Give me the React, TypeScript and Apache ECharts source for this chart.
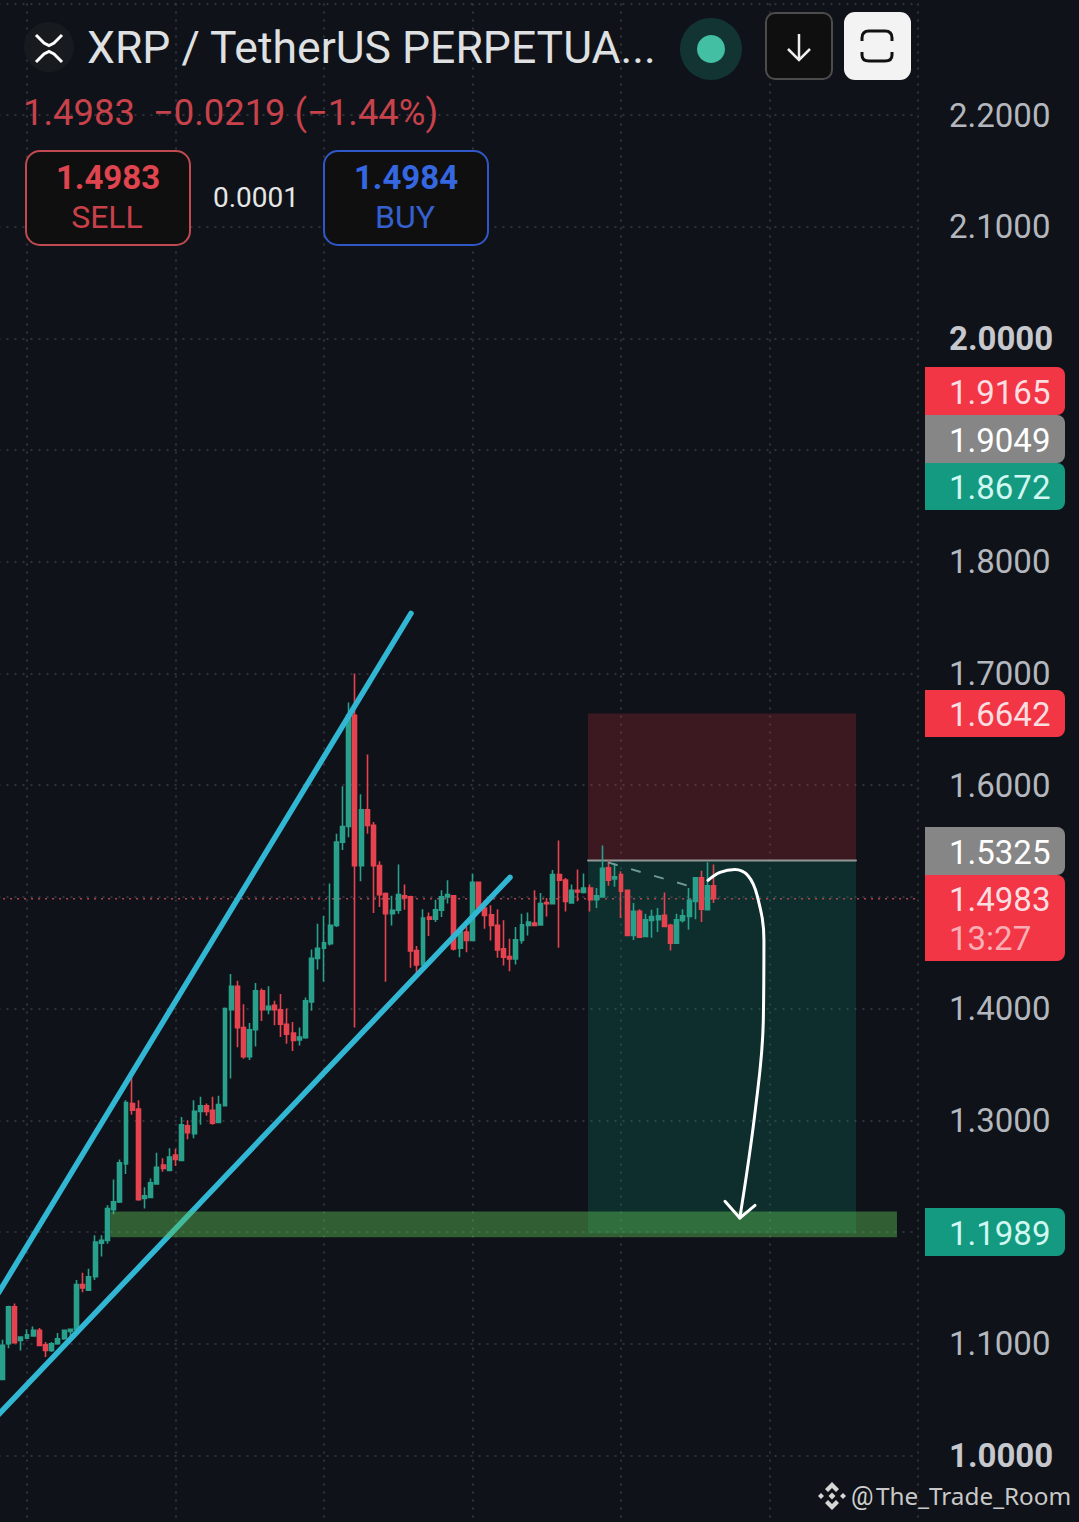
import React, { useEffect, useRef } from "react";
import * as echarts from "echarts";

const opens = [
  1.068, 1.100, 1.133, 1.103, 1.105, 1.107, 1.112, 1.099, 1.094, 1.100,
  1.1044, 1.111, 1.1125, 1.153, 1.148, 1.160, 1.190, 1.1925, 1.220, 1.227,
  1.261, 1.315, 1.310, 1.230, 1.231, 1.243, 1.260, 1.255, 1.269, 1.264,
  1.295, 1.288, 1.308, 1.313, 1.309, 1.298, 1.313, 1.399, 1.420, 1.383,
  1.357, 1.381, 1.416, 1.399, 1.403, 1.399, 1.386, 1.378, 1.372, 1.374,
  1.406, 1.445, 1.454, 1.458, 1.4745, 1.549, 1.563, 1.6625, 1.528, 1.578,
  1.564, 1.528, 1.503, 1.485, 1.488, 1.501, 1.500, 1.452, 1.439, 1.482,
  1.480, 1.488, 1.500, 1.501, 1.454, 1.4685, 1.461, 1.513, 1.490, 1.484,
  1.4745, 1.4535, 1.4465, 1.4445, 1.461, 1.4745, 1.4765, 1.475, 1.495, 1.494,
  1.520, 1.515, 1.4945, 1.506, 1.504, 1.508, 1.4975, 1.500, 1.526, 1.516,
  1.520, 1.506, 1.4655, 1.487, 1.4645, 1.479, 1.4795, 1.4835, 1.4745, 1.4585,
  1.479, 1.4825, 1.496, 1.517, 1.4885, 1.510,
];
const closes = [
  1.0985, 1.133, 1.101, 1.106, 1.108, 1.112, 1.0985, 1.094, 1.100, 1.1044,
  1.112, 1.113, 1.153, 1.150, 1.160, 1.191, 1.1925, 1.221, 1.227, 1.262,
  1.316, 1.309, 1.229, 1.2325, 1.244, 1.258, 1.257, 1.267, 1.265, 1.296,
  1.289, 1.308, 1.313, 1.308, 1.2975, 1.314, 1.400, 1.420, 1.383, 1.357,
  1.381, 1.416, 1.399, 1.402, 1.399, 1.386, 1.377, 1.3715, 1.3745, 1.407,
  1.445, 1.454, 1.459, 1.4745, 1.549, 1.563, 1.6625, 1.528, 1.578, 1.564,
  1.528, 1.502, 1.485, 1.488, 1.502, 1.499, 1.4515, 1.439, 1.481, 1.480,
  1.4885, 1.500, 1.502, 1.4535, 1.4685, 1.461, 1.513, 1.490, 1.4835, 1.4745,
  1.4525, 1.446, 1.4445, 1.4615, 1.475, 1.4775, 1.4745, 1.494, 1.494, 1.520,
  1.515, 1.496, 1.506, 1.5045, 1.508, 1.4975, 1.501, 1.5255, 1.515, 1.518,
  1.505, 1.4655, 1.487, 1.464, 1.4795, 1.4825, 1.483, 1.4735, 1.4585, 1.4795,
  1.483, 1.497, 1.517, 1.489, 1.510, 1.4983,
];
const lows = [
  1.068, 1.096, 1.100, 1.094, 1.1044, 1.107, 1.0985, 1.088, 1.0925, 1.099,
  1.1035, 1.106, 1.111, 1.146, 1.148, 1.157, 1.178, 1.1895, 1.216, 1.226,
  1.252, 1.305, 1.228, 1.221, 1.2305, 1.2425, 1.254, 1.2545, 1.259, 1.264,
  1.283, 1.284, 1.296, 1.304, 1.296, 1.2975, 1.313, 1.3375, 1.3655, 1.355,
  1.354, 1.366, 1.389, 1.395, 1.385, 1.3745, 1.3685, 1.362, 1.367, 1.373,
  1.398, 1.435, 1.424, 1.4565, 1.473, 1.542, 1.5535, 1.383, 1.514, 1.5565,
  1.4855, 1.491, 1.424, 1.4745, 1.485, 1.4885, 1.4365, 1.4305, 1.4385, 1.465,
  1.4775, 1.482, 1.494, 1.452, 1.446, 1.4505, 1.461, 1.488, 1.4715, 1.461,
  1.4455, 1.4385, 1.4335, 1.4395, 1.458, 1.4655, 1.4745, 1.475, 1.4825, 1.494,
  1.4545, 1.487, 1.494, 1.496, 1.503, 1.487, 1.490, 1.500, 1.510, 1.509,
  1.481, 1.4655, 1.4615, 1.4635, 1.4645, 1.4635, 1.4685, 1.473, 1.452, 1.4585,
  1.477, 1.4705, 1.480, 1.4775, 1.488, 1.4945,
];
const highs = [
  1.1035, 1.134, 1.136, 1.1065, 1.113, 1.1155, 1.114, 1.1015, 1.1015, 1.1095,
  1.1125, 1.113, 1.157, 1.1635, 1.167, 1.197, 1.197, 1.224, 1.247, 1.265,
  1.318, 1.343, 1.318, 1.240, 1.248, 1.271, 1.266, 1.275, 1.2745, 1.303,
  1.300, 1.318, 1.321, 1.315, 1.321, 1.322, 1.401, 1.431, 1.425, 1.404,
  1.387, 1.423, 1.418, 1.420, 1.407, 1.413, 1.400, 1.388, 1.383, 1.410,
  1.453, 1.476, 1.483, 1.512, 1.5565, 1.599, 1.674, 1.700, 1.592, 1.6275,
  1.567, 1.532, 1.504, 1.501, 1.529, 1.511, 1.501, 1.456, 1.489, 1.486,
  1.4975, 1.506, 1.515, 1.501, 1.473, 1.473, 1.521, 1.513, 1.497, 1.4925,
  1.489, 1.479, 1.4625, 1.473, 1.485, 1.486, 1.506, 1.5035, 1.499, 1.524,
  1.5505, 1.517, 1.511, 1.5245, 1.521, 1.511, 1.508, 1.546, 1.533, 1.530,
  1.523, 1.506, 1.4945, 1.489, 1.485, 1.4885, 1.490, 1.504, 1.476, 1.485,
  1.489, 1.508, 1.5175, 1.5235, 1.531, 1.529,
];

// Drawings, as [bar, price]
const upperChannel = [[-4.6, 1.1455], [62.06, 1.7538]];
const lowerChannel = [[-4.6, 1.0365], [78.06, 1.5175]];
const dashedLine = [[93.9, 1.5309], [108.3, 1.5076]];
const arrowCurve = [
  [110.06, 1.5148], [112.0, 1.5219], [114.4, 1.5246], [116.5, 1.5192], [118.0, 1.5013],
  [119.1, 1.4611], [119.0, 1.3894], [117.7, 1.3089], [115.2, 1.2125],
];
const arrowHead = [[112.8, 1.2275], [115.2, 1.2125], [117.66, 1.2238]];
const currentPrice = 1.4983;
const stopPrice = 1.6642;
const entryPrice = 1.5325;
const targetPrice = 1.1989;
const positionBars = [90.67, 133.98];
const bandBars = [13.5, 140.6];
const bandPrices = [1.2184, 1.1952];

const hiddenTicks = ["0.9000", "1.2000", "1.5000", "1.9000", "2.3000", "2.4000"];
const boldTicks = ["1.0000", "2.0000"];

const priceTags = [
  { label: "1.9165", top: 367, h: 48, fill: "#f23645", color: "#fcdde0" },
  { label: "1.9049", top: 415, h: 48, fill: "#868686", color: "#ffffff" },
  { label: "1.8672", top: 463, h: 47, fill: "#149a80", color: "#d0f7f0" },
  { label: "1.6642", top: 690, h: 47, fill: "#f23645", color: "#fcdde0" },
  { label: "1.5325", top: 827, h: 48, fill: "#868686", color: "#ffffff" },
  { label: "1.1989", top: 1208, h: 48, fill: "#149a80", color: "#d0f7f0" },
];

const BG = "#0f1218";
const FONT = "Roboto";
const UP = "#29a08b";
const DOWN = "#e5434f";

function lineSeries(data: number[][], color: string, width: number, z: number, extra: any = {}) {
  return {
    type: "line",
    data,
    symbol: "none",
    silent: true,
    z,
    clip: false,
    lineStyle: { color, width, cap: "round", join: "round", ...(extra.lineStyle || {}) },
    smooth: extra.smooth || false,
  };
}

function txt(text: string, x: number, y: number, fontSize: number, fill: string, extra: any = {}) {
  return {
    type: "text",
    z: 100,
    silent: true,
    style: {
      text,
      x,
      y,
      fontSize,
      fontFamily: FONT,
      fontWeight: extra.fontWeight || "normal",
      fill,
      textAlign: extra.textAlign || "left",
      textVerticalAlign: "middle",
    },
  };
}

function poly(points: number[][], fill: string) {
  return { type: "polygon", z: 100, silent: true, shape: { points }, style: { fill } };
}

export default function App() {
  const ref = useRef<HTMLDivElement>(null);

  useEffect(() => {
    if (!ref.current) return;
    document.body.style.background = BG;
    echarts.graphic.registerShape(
      "focusIcon",
      echarts.graphic.extendPath(
        "M862 41 V38 Q862 31 869 31 H885 Q892 31 892 38 V41 M862 52 V55 Q862 61 869 61 H885 Q892 61 892 55 V52",
        {}
      )
    );
    const chart = echarts.init(ref.current, undefined, { renderer: "svg" });
    const candles = opens.map((o, i) => [i - 4, o, closes[i], lows[i], highs[i]]);
    chart.setOption({
      animation: false,
      backgroundColor: BG,
      grid: { left: -121.5, width: 1039.5, top: -108.4, height: 1675.5, containLabel: false, outerBoundsMode: "none" },
      xAxis: {
        type: "value",
        min: -24,
        max: 144,
        interval: 24,
        axisLabel: { show: false },
        axisLine: { show: false },
        axisTick: { show: false },
        splitLine: { show: true, lineStyle: { color: "#3b3e46", width: 1.5, type: [2, 6] } },
      },
      yAxis: {
        type: "value",
        position: "right",
        min: 0.9,
        max: 2.4,
        interval: 0.1,
        axisLine: { show: false },
        axisTick: { show: false },
        splitLine: { show: true, lineStyle: { color: "#3b3e46", width: 1.5, type: [2, 6] } },
        axisLabel: {
          margin: 31,
          fontFamily: FONT,
          fontSize: 33,
          color: "#b4b7bd",
          formatter: (v: number) => {
            const s = Number(v).toFixed(4);
            if (hiddenTicks.includes(s)) return "";
            return boldTicks.includes(s) ? `{b|${s}}` : s;
          },
          rich: { b: { fontFamily: FONT, fontSize: 33, fontWeight: "bold", color: "#c6c8cd" } },
        },
      },
      series: [
        {
          type: "line",
          data: [],
          silent: true,
          z: 1,
          markArea: {
            silent: true,
            z: 1,
            data: [
              [
                { coord: [positionBars[0], stopPrice], itemStyle: { color: "rgba(242,54,69,0.2)" } },
                { coord: [positionBars[1], entryPrice] },
              ],
              [
                { coord: [positionBars[0], entryPrice], itemStyle: { color: "rgba(8,153,129,0.2)" } },
                { coord: [positionBars[1], targetPrice] },
              ],
            ],
          },
        },
        lineSeries([[-5, currentPrice], [144, currentPrice]], "#b0454e", 1.6, 2, { lineStyle: { type: [2, 5], cap: "butt" } }),
        lineSeries([[positionBars[0], entryPrice], [positionBars[1], entryPrice]], "#939797", 2, 3),
        {
          type: "candlestick",
          z: 4,
          silent: true,
          barWidth: 4.4,
          encode: { x: 0, y: [1, 2, 3, 4] },
          data: candles,
          itemStyle: { color: UP, color0: DOWN, borderColor: UP, borderColor0: DOWN, borderWidth: 1.6 },
        },
        lineSeries(dashedLine, "#6f9a97", 2, 5, { lineStyle: { type: [10, 14], cap: "butt" } }),
        lineSeries(upperChannel, "#31b7d3", 5.5, 6),
        lineSeries(lowerChannel, "#31b7d3", 5.5, 6),
        {
          type: "line",
          data: [],
          silent: true,
          z: 7,
          markArea: {
            silent: true,
            z: 7,
            data: [
              [
                { coord: [bandBars[0], bandPrices[0]], itemStyle: { color: "rgba(90,190,85,0.45)" } },
                { coord: [bandBars[1], bandPrices[1]] },
              ],
            ],
          },
        },
        lineSeries(arrowCurve, "#ffffff", 3, 8, { smooth: 0.4 }),
        lineSeries(arrowHead, "#ffffff", 3, 8),
      ],
      graphic: [
        { type: "circle", z: 100, silent: true, shape: { cx: 49, cy: 47, r: 25 }, style: { fill: "#171b20" } },
        {
          type: "polyline", z: 101, silent: true,
          shape: { points: [[36, 35], [44, 43], [49, 45.5], [54, 43], [62, 35]] },
          style: { stroke: "#ffffff", lineWidth: 3, fill: "none" },
        },
        {
          type: "polyline", z: 101, silent: true,
          shape: { points: [[36, 62], [44, 54], [49, 51.5], [54, 54], [62, 62]] },
          style: { stroke: "#ffffff", lineWidth: 3, fill: "none" },
        },
        txt("XRP / TetherUS PERPETUA...", 87, 48, 44.5, "#dfe0e2"),
        { type: "circle", z: 100, silent: true, shape: { cx: 711, cy: 49, r: 31 }, style: { fill: "#123534" } },
        { type: "circle", z: 101, silent: true, shape: { cx: 711, cy: 49, r: 14 }, style: { fill: "#43bfa3" } },
        {
          type: "rect", z: 100, silent: true,
          shape: { x: 766, y: 13, width: 66, height: 66, r: 9 },
          style: { fill: "#0f0f0f", stroke: "#4c4c4c", lineWidth: 2 },
        },
        {
          type: "polyline", z: 101, silent: true,
          shape: { points: [[799, 34], [799, 59]] },
          style: { stroke: "#eeeeee", lineWidth: 2.5, fill: "none" },
        },
        {
          type: "polyline", z: 101, silent: true,
          shape: { points: [[788, 49], [799, 60], [810, 49]] },
          style: { stroke: "#eeeeee", lineWidth: 2.5, fill: "none" },
        },
        {
          type: "rect", z: 100, silent: true,
          shape: { x: 844, y: 12, width: 67, height: 68, r: 11 },
          style: { fill: "#f3f3f3" },
        },
        { type: "focusIcon", z: 101, silent: true, x: 0, y: 0, style: { fill: "none", stroke: "#111111", lineWidth: 3 } },
        txt("1.4983  −0.0219 (−1.44%)", 23, 112, 36.4, "#c8424b"),
        {
          type: "rect", z: 100, silent: true,
          shape: { x: 26, y: 151, width: 164, height: 94, r: 14 },
          style: { fill: "#0f0f0f", stroke: "#c04a50", lineWidth: 2 },
        },
        txt("1.4983", 108, 177, 33, "#e0454f", { textAlign: "center", fontWeight: "bold" }),
        txt("SELL", 107, 217, 32, "#c8404a", { textAlign: "center" }),
        txt("0.0001", 256, 197, 28, "#e6e6e6", { textAlign: "center" }),
        {
          type: "rect", z: 100, silent: true,
          shape: { x: 324, y: 151, width: 164, height: 94, r: 14 },
          style: { fill: "#0f0f0f", stroke: "#2f57c8", lineWidth: 2 },
        },
        txt("1.4984", 406, 177, 33, "#3567e0", { textAlign: "center", fontWeight: "bold" }),
        txt("BUY", 405, 217, 32, "#3560d0", { textAlign: "center" }),
        ...priceTags.flatMap((t) => [
          {
            type: "rect", z: 100, silent: true,
            shape: { x: 925, y: t.top, width: 140, height: t.h, r: [0, 8, 8, 0] },
            style: { fill: t.fill },
          },
          txt(t.label, 949, t.top + t.h / 2 + 1, 33, t.color),
        ]),
        {
          type: "rect", z: 100, silent: true,
          shape: { x: 925, y: 875, width: 140, height: 86, r: [0, 8, 8, 0] },
          style: { fill: "#f23645" },
        },
        txt("1.4983", 949, 899, 33, "#fcdde0"),
        txt("13:27", 949, 938, 33, "#f9aeb6"),
        poly([[832, 1482], [839, 1489], [836, 1492], [832, 1488], [828, 1492], [825, 1489]], "#d6d6d6"),
        poly([[832, 1510], [839, 1503], [836, 1500], [832, 1504], [828, 1500], [825, 1503]], "#d6d6d6"),
        poly([[832, 1492.5], [835.5, 1496], [832, 1499.5], [828.5, 1496]], "#d6d6d6"),
        poly([[821, 1493], [824, 1496], [821, 1499], [818, 1496]], "#d6d6d6"),
        poly([[843, 1493], [846, 1496], [843, 1499], [840, 1496]], "#d6d6d6"),
        txt("@", 851, 1496, 25, "#d0d0d0"),
        {
          type: "text", z: 100, silent: true,
          style: {
            text: "The_Trade_Room", x: 876, y: 1495, fontSize: 24.3, fontFamily: "Noto Sans",
            fill: "#c8c8c8", textAlign: "left", textVerticalAlign: "middle",
          },
        },
      ],
    });
    return () => chart.dispose();
  }, []);

  return <div ref={ref} style={{ position: "absolute", left: 0, top: 0, width: 1079, height: 1522, overflow: "hidden" }} />;
}
